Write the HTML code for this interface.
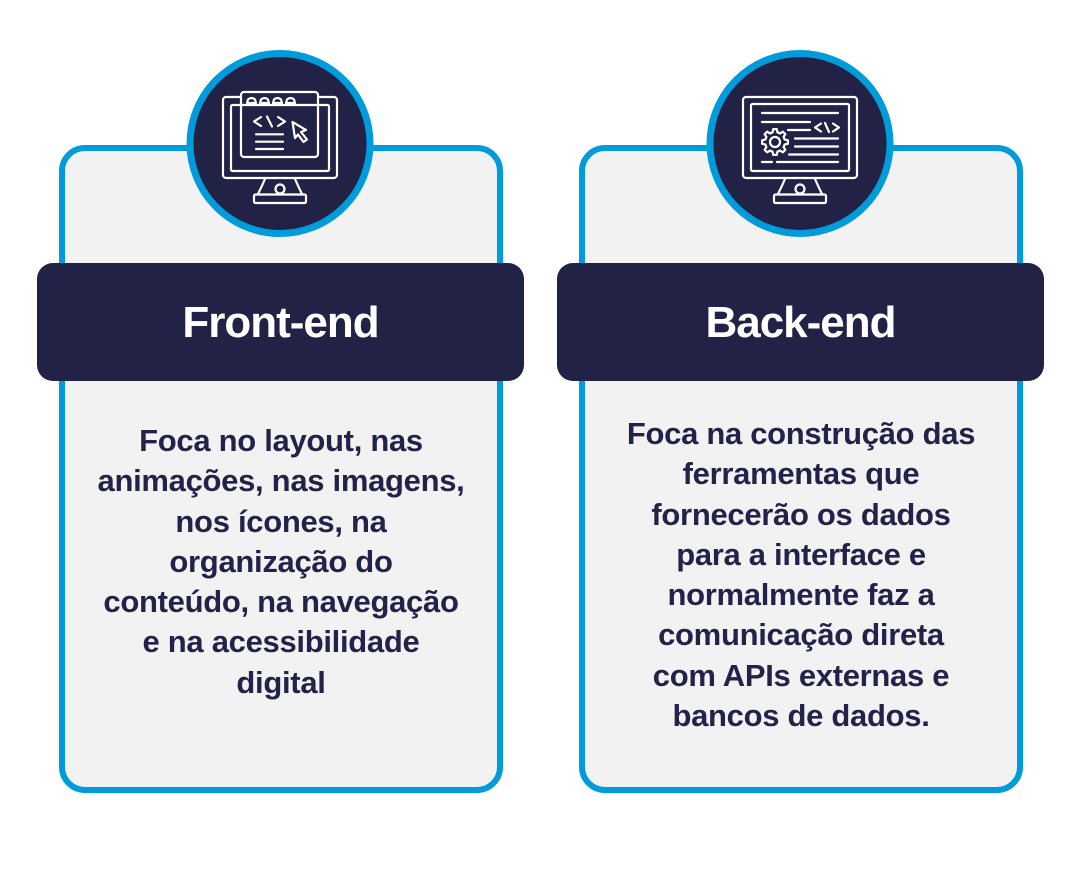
<!DOCTYPE html>
<html>
<head>
<meta charset="utf-8">
<style>
  html, body { margin:0; padding:0; }
  body { width:1080px; height:890px; background:#ffffff; position:relative; overflow:hidden;
         font-family:"Liberation Sans", Arial, sans-serif; }
  .card { position:absolute; top:145px; width:432px; height:636px; background:#f2f2f2;
          border:6px solid #009bda; border-radius:26px; }
  .hdr { position:absolute; top:263px; height:118px; width:487px; background:#222247;
         border-radius:16px; }
  .htxt { position:absolute; top:293px; height:60px; line-height:60px; width:487px;
          text-align:center; color:#ffffff; font-weight:bold; font-size:44px; letter-spacing:-1px; }
  .body { position:absolute; width:440px; text-align:center; color:#23234a; font-weight:bold;
          font-size:31px; line-height:40.3px; letter-spacing:-0.3px; }
  svg { position:absolute; left:0; top:0; }
</style>
</head>
<body>
  <div class="card" style="left:59px;"></div>
  <div class="card" style="left:579px;"></div>

  <div class="hdr" style="left:37px;"></div>
  <div class="hdr" style="left:557px;"></div>
  <div class="htxt" style="left:37px;">Front-end</div>
  <div class="htxt" style="left:557px;">Back-end</div>

  <div class="body" style="left:61px; top:421px;">Foca no layout, nas<br>animações, nas imagens,<br>nos ícones, na<br>organização do<br>conteúdo, na navegação<br>e na acessibilidade<br>digital</div>
  <div class="body" style="left:581px; top:414px;">Foca na construção das<br>ferramentas que<br>fornecerão os dados<br>para a interface e<br>normalmente faz a<br>comunicação direta<br>com APIs externas e<br>bancos de dados.</div>

  <svg width="1080" height="890" viewBox="0 0 1080 890">
    <!-- circles -->
    <circle cx="280" cy="143.5" r="90" fill="#222247" stroke="#009bda" stroke-width="7"/>
    <circle cx="800" cy="143.5" r="90" fill="#222247" stroke="#009bda" stroke-width="7"/>

    <!-- Left icon -->
    <g fill="none" stroke="#ffffff" stroke-width="2.2" stroke-linecap="round" stroke-linejoin="round">
      <rect x="223" y="97" width="114" height="81" rx="3"/>
      <rect x="231" y="105" width="98" height="66" rx="1.5"/>
      <rect x="241" y="92" width="77" height="65" rx="3" fill="#222247"/>
      <line x1="241" y1="105" x2="318" y2="105"/>
      <path d="M247 103 L248 99.5 Q251.5 96.5 255 99.5 L256 103 Z"/>
      <path d="M260 103 L261 99.5 Q264.5 96.5 268 99.5 L269 103 Z"/>
      <path d="M273 103 L274 99.5 Q277.5 96.5 281 99.5 L282 103 Z"/>
      <path d="M286 103 L287 99.5 Q290.5 96.5 294 99.5 L295 103 Z"/>
      <polyline points="261,117 254,121.5 261,126"/>
      <line x1="267" y1="116.5" x2="272" y2="126.5"/>
      <polyline points="278,117 285,121.5 278,126"/>
      <line x1="256" y1="134.3" x2="283" y2="134.3"/>
      <line x1="256" y1="141.7" x2="283" y2="141.7"/>
      <line x1="256" y1="149" x2="283" y2="149"/>
      <path d="M292.5 122 L306 130 L301 132 L307 139.5 L303.5 142 L298 134.5 L295 138 Z"/>
      <path d="M265 179 Q262 186 258 194"/>
      <path d="M295 179 Q298 186 302 194"/>
      <rect x="254" y="194.5" width="52" height="8.5" rx="1.5"/>
      <circle cx="280" cy="189" r="4.5"/>
    </g>

    <!-- Right icon -->
    <g fill="none" stroke="#ffffff" stroke-width="2.2" stroke-linecap="round" stroke-linejoin="round">
      <rect x="743" y="97" width="114" height="81" rx="3"/>
      <rect x="751" y="104" width="98" height="67" rx="1.5"/>
      <line x1="762" y1="113" x2="838" y2="113"/>
      <line x1="762" y1="122" x2="810" y2="122"/>
      <line x1="788" y1="130" x2="810" y2="130"/>
      <polyline points="821,123.5 815,127.5 821,131.5"/>
      <line x1="825" y1="123" x2="829" y2="132"/>
      <polyline points="833,123.5 839,127.5 833,131.5"/>
      <line x1="795" y1="138.5" x2="838" y2="138.5"/>
      <line x1="795" y1="146.5" x2="838" y2="146.5"/>
      <line x1="789" y1="154.5" x2="838" y2="154.5"/>
      <line x1="762" y1="162" x2="772" y2="162"/>
      <line x1="777" y1="162" x2="838" y2="162"/>
      <g transform="translate(775,142)">
        <polygon points="9.70,-2.42 12.87,-1.81 12.87,1.81 9.70,2.42 8.57,5.15 10.38,7.82 7.82,10.38 5.15,8.57 2.42,9.70 1.81,12.87 -1.81,12.87 -2.42,9.70 -5.15,8.57 -7.82,10.38 -10.38,7.82 -8.57,5.15 -9.70,2.42 -12.87,1.81 -12.87,-1.81 -9.70,-2.42 -8.57,-5.15 -10.38,-7.82 -7.82,-10.38 -5.15,-8.57 -2.42,-9.70 -1.81,-12.87 1.81,-12.87 2.42,-9.70 5.15,-8.57 7.82,-10.38 10.38,-7.82 8.57,-5.15"/>
        <circle cx="0" cy="0" r="5"/>
      </g>
      <path d="M785 179 Q782 186 778 194"/>
      <path d="M815 179 Q818 186 822 194"/>
      <rect x="774" y="194.5" width="52" height="8.5" rx="1.5"/>
      <circle cx="800" cy="189" r="4.5"/>
    </g>
  </svg>
</body>
</html>
